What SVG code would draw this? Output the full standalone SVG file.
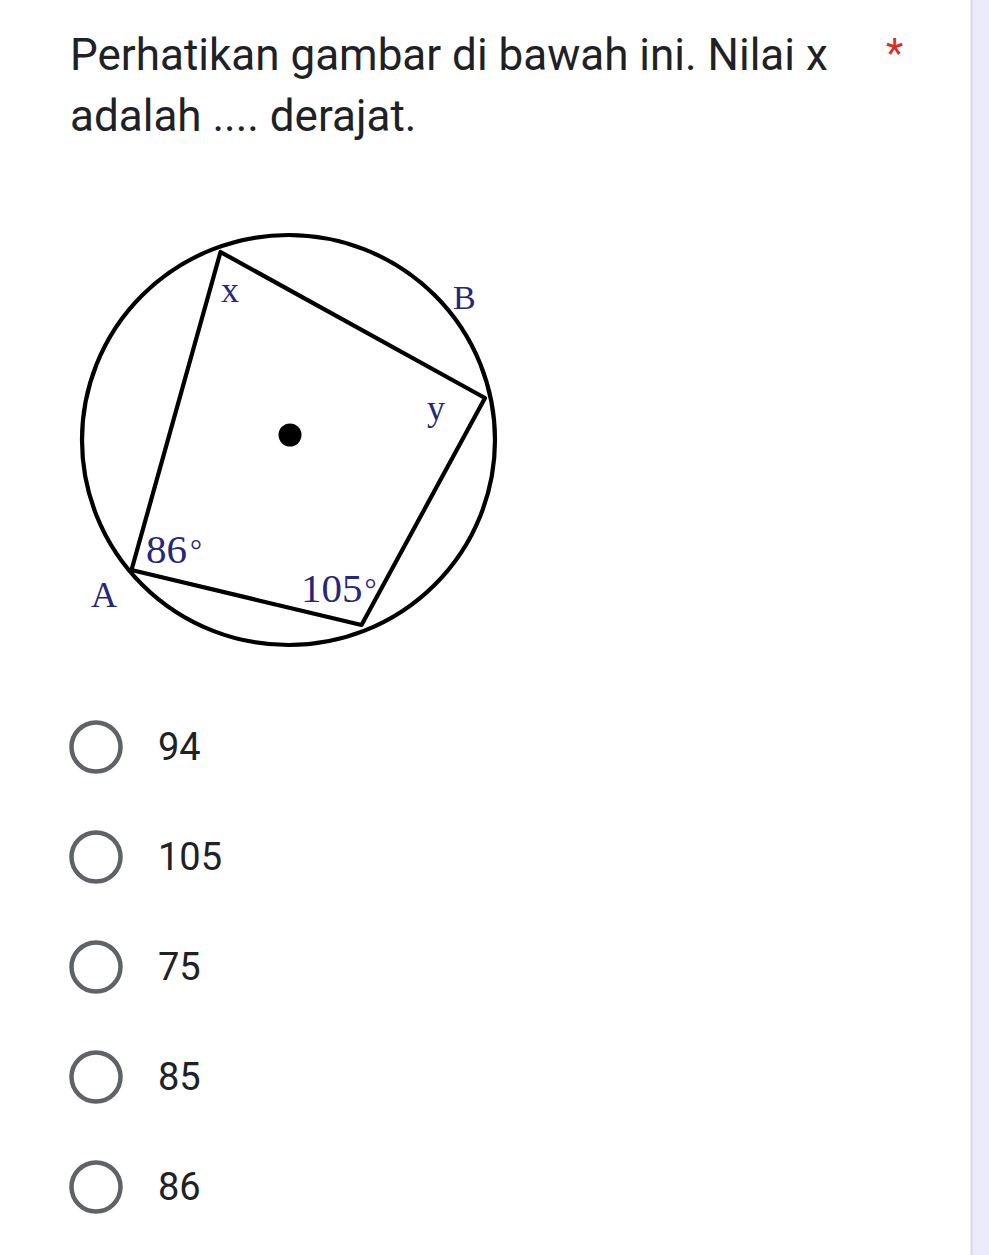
<svg xmlns="http://www.w3.org/2000/svg" width="989" height="1255" viewBox="0 0 989 1255">
<style>
.q{font-family:Roboto,"Liberation Sans",sans-serif;font-size:44px;fill:#202124}
.opt{font-family:Roboto,"Liberation Sans",sans-serif;font-size:38px;fill:#202124}
.radio{fill:none;stroke:#5f6368;stroke-width:4.5}
.geo{fill:none;stroke:#000;stroke-width:4.2;stroke-linejoin:round}
.lbl{font-family:"Liberation Serif","Times New Roman",serif;fill:#27277a}
.deg{font-size:30px}
</style>
<rect width="989" height="1255" fill="#ffffff"/>
<rect x="971" y="0" width="18" height="1255" fill="#ecebfb"/>
<line x1="971.5" y1="0" x2="971.5" y2="1255" stroke="#dad8e6" stroke-width="2"/>
<g id="question">
<text class="q" x="70" y="70">Perhatikan gambar di bawah ini. Nilai x</text>
<text class="q" x="70" y="131">adalah .... derajat.</text>
<text x="886" y="67" font-family="Roboto,'Liberation Sans',sans-serif" font-size="40" fill="#d93025">*</text>
</g>
<g id="figure">
<ellipse class="geo" cx="288.5" cy="440" rx="206.5" ry="205"/>
<polygon class="geo" points="220.5,252 485,398 361.5,625 131.5,570"/>
<circle cx="290" cy="435" r="11.5" fill="#000"/>
<text class="lbl" x="221" y="302" font-size="36">x</text>
<text class="lbl" x="453" y="309" font-size="34">B</text>
<text class="lbl" x="427" y="420" font-size="36">y</text>
<text class="lbl" x="146" y="563" font-size="41">86<tspan class="deg" dx="3" dy="-3">°</tspan></text>
<text class="lbl" x="91" y="607" font-size="36">A</text>
<text class="lbl" x="301" y="602" font-size="41">105<tspan class="deg" dx="2" dy="-3">°</tspan></text>
</g>
<g id="options">
<g id="opt1"><circle class="radio" cx="96" cy="747" r="24.5"/><text class="opt" x="158" y="760">94</text></g>
<g id="opt2"><circle class="radio" cx="96" cy="857" r="24.5"/><text class="opt" x="158" y="870">105</text></g>
<g id="opt3"><circle class="radio" cx="96" cy="967" r="24.5"/><text class="opt" x="158" y="980">75</text></g>
<g id="opt4"><circle class="radio" cx="96" cy="1077" r="24.5"/><text class="opt" x="158" y="1090">85</text></g>
<g id="opt5"><circle class="radio" cx="96" cy="1187" r="24.5"/><text class="opt" x="158" y="1200">86</text></g>
</g>
</svg>
